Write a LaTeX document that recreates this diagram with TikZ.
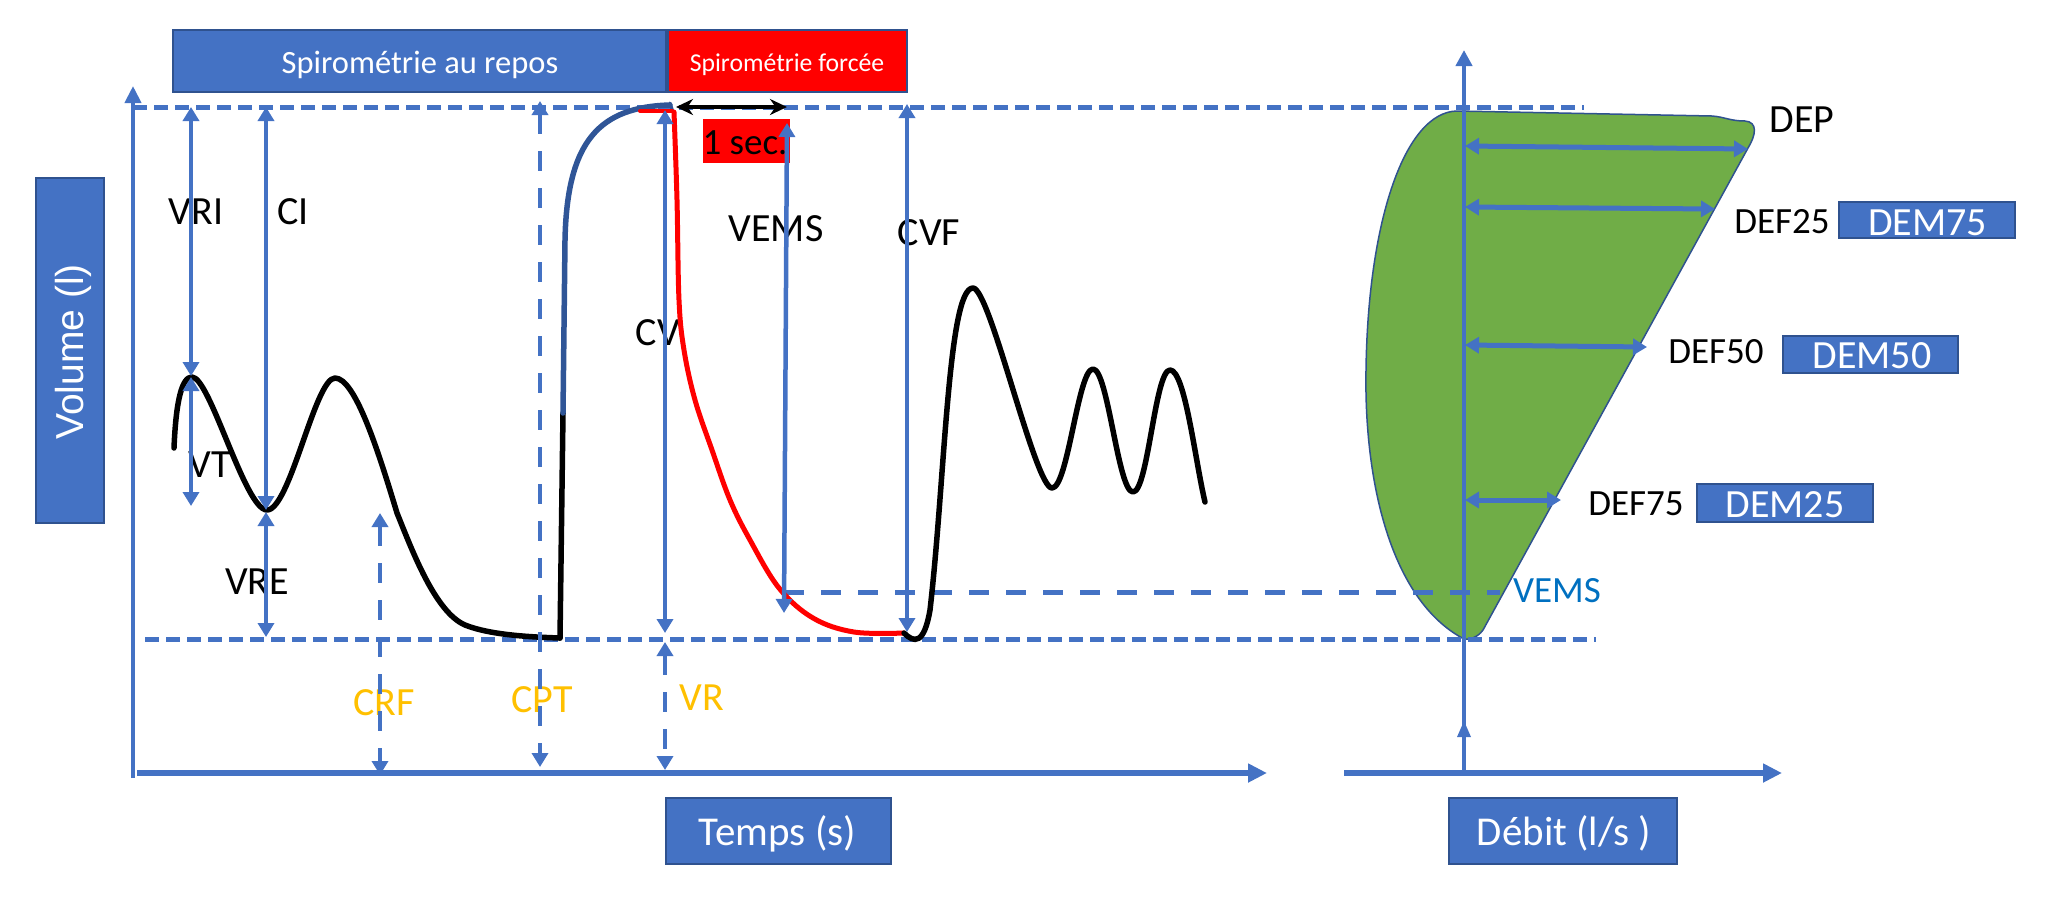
\documentclass[tikz,border=0pt]{standalone}
\usepackage{fontspec}
\setmainfont{Carlito}
\newfontfamily\volfont{Liberation Sans}
\usetikzlibrary{arrows.meta}
\definecolor{oblue}{HTML}{4472C4}
\definecolor{obord}{HTML}{2F528F}
\definecolor{dblue}{HTML}{2F5597}
\definecolor{ored}{HTML}{FF0000}
\definecolor{oorange}{HTML}{FFC000}
\definecolor{ogreen}{HTML}{70AD47}
\definecolor{lblue}{HTML}{0070C0}
\newcommand\myfs[1]{\fontsize{#1}{#1}\selectfont}
\tikzset{
  bx/.style={fill=oblue, draw=obord, line width=2.5pt, inner sep=0pt},
  wt/.style={text=white, inner sep=0pt, anchor=base},
  lab/.style={text=black, inner sep=0pt, anchor=base, font=\myfs{40}},
  olab/.style={lab, text=oorange},
  tri/.tip={Triangle[width=16pt,length=14pt]},
  dimline/.style={draw=oblue, line width=4.5pt, tri-tri},
  ddim/.style={dimline, dash pattern=on 20pt off 17pt},
  hdash/.style={draw=oblue, line width=5pt, dash pattern=on 14pt off 7pt},
  curve/.style={line width=5.5pt, line join=round, line cap=round},
  flow/.style={draw=oblue, line width=5pt, tri-tri},
}
\begin{document}
\begin{tikzpicture}[x=1pt,y=-1pt]
\useasboundingbox (0,0) rectangle (2048,898);

% header boxes
\node[bx, minimum width=493pt, minimum height=62pt] (rep) at (419.5,61) {};
\node[wt, font=\myfs{32.5}] (reptxt) at (420,73) {Spirométrie au repos};
\node[bx, fill=ored, minimum width=239pt, minimum height=62pt] (forc) at (787.5,61) {};
\node[wt, font=\myfs{25.7}] (forctxt) at (787,71) {Spirométrie forcée};

% axis label boxes
\node[bx, minimum width=68pt, minimum height=345pt] (vol) at (70,350.5) {};
\node[text=white, inner sep=0pt, rotate=90, font=\volfont\myfs{39}] (voltxt) at (73,352) {Volume (l)};
\node[bx, minimum width=225pt, minimum height=66pt] (temps) at (778.5,831) {};
\node[wt, font=\myfs{41}] (tempstxt) at (777.5,845) {Temps (s)};
\node[bx, minimum width=228pt, minimum height=66pt] (debit) at (1563,831) {};
\node[wt, font=\myfs{41}] (debittxt) at (1564,845) {Débit (l/s )};

% DEM boxes
\node[bx, minimum width=176pt, minimum height=36pt] (dem75) at (1927,220) {};
\node[wt, font=\myfs{40}] (dem75t) at (1927.5,235) {DEM75};
\node[bx, minimum width=175pt, minimum height=37pt] (dem50) at (1870.5,354.5) {};
\node[wt, font=\myfs{40}] (dem50t) at (1872,368) {DEM50};
\node[bx, minimum width=176pt, minimum height=38pt] (dem25) at (1785,503) {};
\node[wt, font=\myfs{40}] (dem25t) at (1785,517) {DEM25};

% flow-volume loop
\filldraw[fill=ogreen, draw=obord, line width=1.5pt]
  (1464,639) .. controls (1390,600) and (1364,480) .. (1366,370)
  .. controls (1368,220) and (1405,112) .. (1457,111)
  -- (1712,116) .. controls (1725,117) and (1730,121) .. (1745,121)
  .. controls (1758,122) and (1756,135) .. (1748,148)
  -- (1483,630) .. controls (1478,637) and (1470,640) .. (1464,639) -- cycle;

% dashed reference lines
\draw[hdash] (133,107) -- (1584,107);
\draw[hdash] (145,639) -- (1596,639);
\draw[draw=oblue, line width=5pt, dash pattern=on 20pt off 17pt] (784,592) -- (1500,592);

% 1 sec box
\fill[ored] (703,119) rectangle (790,163);
\node[lab, font=\myfs{37}] (sec) at (745,154) {1 sec.};

% labels
\node[lab] (vri) at (196,224) {VRI};
\node[lab] (ci) at (293,224) {CI};
\node[lab] (cv) at (658,345) {CV};
\node[lab] (vems) at (776,241) {VEMS};
\node[lab] (cvf) at (929,245) {CVF};
\node[lab] (vt) at (210,477) {VT};
\node[lab] (vre) at (257,594) {VRE};
\node[olab] (crf) at (384,715) {CRF};
\node[olab] (cpt) at (542,712) {CPT};
\node[olab] (vr) at (702,710) {VR};
\node[lab] (dep) at (1802,132) {DEP};
\node[lab, font=\myfs{37}] (def25) at (1782,233) {DEF25};
\node[lab, font=\myfs{37}] (def50) at (1716,363) {DEF50};
\node[lab, font=\myfs{37}] (def75) at (1636,515) {DEF75};
\node[lab, text=lblue, font=\myfs{37}] (vems2) at (1557,602) {VEMS};

% curves
\draw[curve] (174,448) .. controls (176,400) and (182,377) .. (192,377)
  .. controls (210,377) and (245,510) .. (267,510)
  .. controls (290,510) and (315,378) .. (335,378)
  .. controls (355,378) and (378,450) .. (397,513)
  .. controls (412,550) and (435,612) .. (465,625)
  .. controls (490,635) and (530,637) .. (560,638);
\draw[curve] (560,638) -- (563,413);
\draw[curve, dblue] (563,413) -- (565,240) .. controls (567,140) and (600,107) .. (670,105);
\draw[dblue, line width=3pt, line cap=round] (670,103) -- (673,112);
\draw[curve, ored, line width=4pt] (640,111) -- (672,111);
\draw[curve, ored, line width=5pt] plot[smooth, tension=0.6] coordinates {(674,112) (677,200) (679,300) (684,350) (695,400) (712,450) (730,500) (750,540) (779,588) (813,618) (854,632) (904,633)};
\draw[curve] (904,633) .. controls (914,643) and (924,645) .. (930,610)
  .. controls (945,480) and (948,288) .. (973,288)
  .. controls (990,288) and (1035,488) .. (1052,488)
  .. controls (1068,488) and (1078,369) .. (1093,369)
  .. controls (1108,369) and (1118,492) .. (1133,492)
  .. controls (1148,492) and (1155,370) .. (1170,370)
  .. controls (1185,370) and (1195,460) .. (1205,502);

% dimension arrows
\draw[dimline] (191,107) -- (191,376);
\draw[dimline] (191,377) -- (191,506);
\draw[dimline] (266,107) -- (266,510);
\draw[dimline] (266,512) -- (266,637);
\draw[ddim] (380,513) -- (380,775);
\draw[ddim] (540,101) -- (540,767);
\draw[dimline] (665,110) -- (665,633);
\draw[ddim] (665,642) -- (665,770);
\draw[dimline] (787,123) -- (784,613);
\draw[dimline] (907,104) -- (907,632);
\draw[black, line width=4.5pt, {Stealth[length=17pt,width=16pt]}-{Stealth[length=17pt,width=16pt]}] (676,107) -- (787,107);

% flow arrows
\draw[flow] (1465,146) -- (1748,149);
\draw[flow] (1465,207) -- (1715,209);
\draw[flow] (1465,345) -- (1647,347);
\draw[flow] (1465,500) -- (1561,500);

% axes
\draw[oblue, line width=4pt, -{Triangle[width=16pt,length=17pt]}] (133,778) -- (133,86);
\draw[oblue, line width=5.5pt, -{Triangle[width=18pt,length=19pt]}] (137,773) -- (1267,773);
\draw[oblue, line width=4.5pt, -{Triangle[width=16pt,length=16pt]}] (1464,770) -- (1464,50);
\fill[oblue] (1457,737) -- (1464,721) -- (1471,737) -- cycle;
\draw[oblue, line width=5.5pt, -{Triangle[width=18pt,length=19pt]}] (1344,773) -- (1782,773);
\end{tikzpicture}
\end{document}
